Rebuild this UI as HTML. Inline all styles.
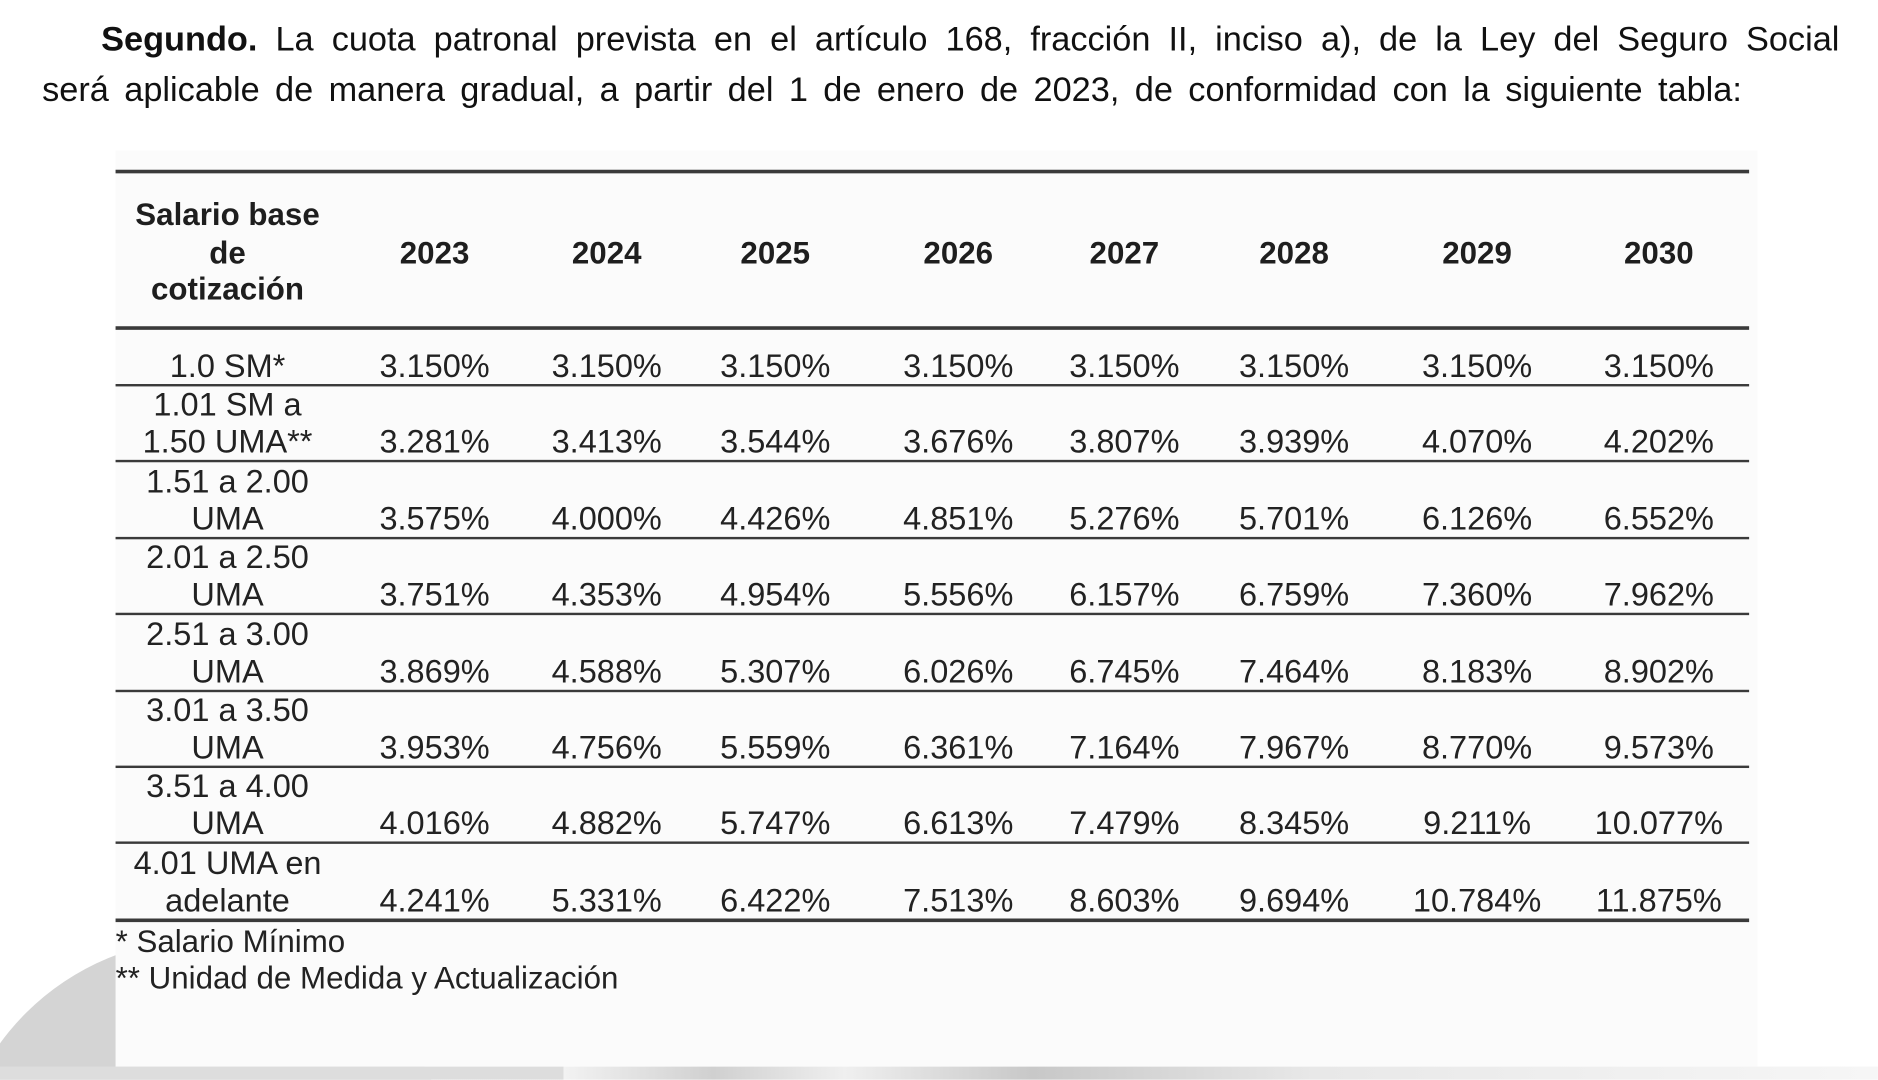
<!DOCTYPE html>
<html><head><meta charset="utf-8">
<style>
html,body{margin:0;padding:0;background:#fff;width:1878px;height:1080px;overflow:hidden;}
body{position:relative;}
#stage{position:absolute;left:0;top:0;width:1560px;height:897px;overflow:hidden;transform:scale(1.2038);transform-origin:0 0;font-family:"Liberation Sans",Arial,sans-serif;color:#1a1a1a;}
.t{position:absolute;white-space:nowrap;line-height:30px;}
.c{transform:translateX(-50%);}
.para{font-size:28.5px;color:#111;}
.cell{font-size:27px;color:#222;}
.hdr{font-size:26px;font-weight:bold;color:#1e1e1e;}
.line{position:absolute;left:96px;width:1357px;background:#3a3a3a;}
</style></head>
<body>
<div id="stage">
  <div style="position:absolute;left:-40px;top:780px;width:420px;height:420px;border-radius:50%;background:#d4d4d4;"></div>
  <div style="position:absolute;left:0;top:886px;width:1560px;height:11px;background:linear-gradient(90deg,#ddd 0,#ddd 30%,#f2f2f2 30%,#d0d0d0 38%,#efefef 45%,#c8c8c8 55%,#e8e8e8 70%,#f6f6f6 100%);"></div>
  <div style="position:absolute;left:96px;top:125px;width:1364px;height:761px;background:#fbfbfb;"></div>

  <div class="t para" style="left:84px;top:18px;width:1444px;text-align:justify;text-align-last:justify;"><b>Segundo.</b> La cuota patronal prevista en el artículo 168, fracción II, inciso a), de la Ley del Seguro Social</div>
  <div class="t para" style="left:35px;top:60px;width:1412px;text-align:justify;text-align-last:justify;">será aplicable de manera gradual, a partir del 1 de enero de 2023, de conformidad con la siguiente tabla:</div>

  <div class="line" style="top:141px;height:3px;"></div>
  <div class="line" style="top:271px;height:3px;"></div>

  <div class="t hdr c" style="left:189px;top:163px;">Salario base</div>
  <div class="t hdr c" style="left:189px;top:195px;">de</div>
  <div class="t hdr c" style="left:189px;top:225px;">cotización</div>

  <div class="t cell" style="left:96px;top:767px;font-size:26px;">* Salario Mínimo</div>
  <div class="t cell" style="left:96px;top:797px;font-size:26px;">** Unidad de Medida y Actualización</div>
</div>
<script>
const years = ["2023","2024","2025","2026","2027","2028","2029","2030"];
const rowLabels = [["1.0 SM*"],["1.01 SM a","1.50 UMA**"],["1.51 a 2.00","UMA"],["2.01 a 2.50","UMA"],["2.51 a 3.00","UMA"],["3.01 a 3.50","UMA"],["3.51 a 4.00","UMA"],["4.01 UMA en","adelante"]];
const r1 = ["3.150%","3.150%","3.150%","3.150%","3.150%","3.150%","3.150%","3.150%"];
const r2 = ["3.281%","3.413%","3.544%","3.676%","3.807%","3.939%","4.070%","4.202%"];
const r3 = ["3.575%","4.000%","4.426%","4.851%","5.276%","5.701%","6.126%","6.552%"];
const r4 = ["3.751%","4.353%","4.954%","5.556%","6.157%","6.759%","7.360%","7.962%"];
const r5 = ["3.869%","4.588%","5.307%","6.026%","6.745%","7.464%","8.183%","8.902%"];
const r6 = ["3.953%","4.756%","5.559%","6.361%","7.164%","7.967%","8.770%","9.573%"];
const r7 = ["4.016%","4.882%","5.747%","6.613%","7.479%","8.345%","9.211%","10.077%"];
const r8 = ["4.241%","5.331%","6.422%","7.513%","8.603%","9.694%","10.784%","11.875%"];
const rowValues = [r1,r2,r3,r4,r5,r6,r7,r8];

const stage = document.getElementById('stage');
const colX = [361,504,644,796,934,1075,1227,1378];
const labelX = 189;
function rowBottom(i){ return 320 + i*63.4; }
function mk(cls, txt, x, y){
  const d = document.createElement('div');
  d.className = 't ' + cls + ' c';
  d.textContent = txt;
  d.style.left = x + 'px';
  d.style.top = y + 'px';
  stage.appendChild(d);
  return d;
}
years.forEach((y,j)=>{
  const el = mk('hdr', y, colX[j], 195);
  
  
});
rowValues.forEach((vals,i)=>{
  const bottom = rowBottom(i);
  const lastTop = bottom - 31;
  const labs = rowLabels[i];
  labs.forEach((l,k)=>{
    const top = lastTop - (labs.length-1-k)*31;
    const el = mk('cell', l, labelX, top);
    
    
  });
  vals.forEach((v,j)=>{
    const el = mk('cell', v, colX[j], lastTop);
    
    
  });
  const ln = document.createElement('div');
  ln.className = 'line';
  ln.style.top = (bottom - 1) + 'px';
  ln.style.height = (i === rowValues.length-1 ? 3 : 2) + 'px';
  
  
  stage.appendChild(ln);
});
</script>
</body></html>
